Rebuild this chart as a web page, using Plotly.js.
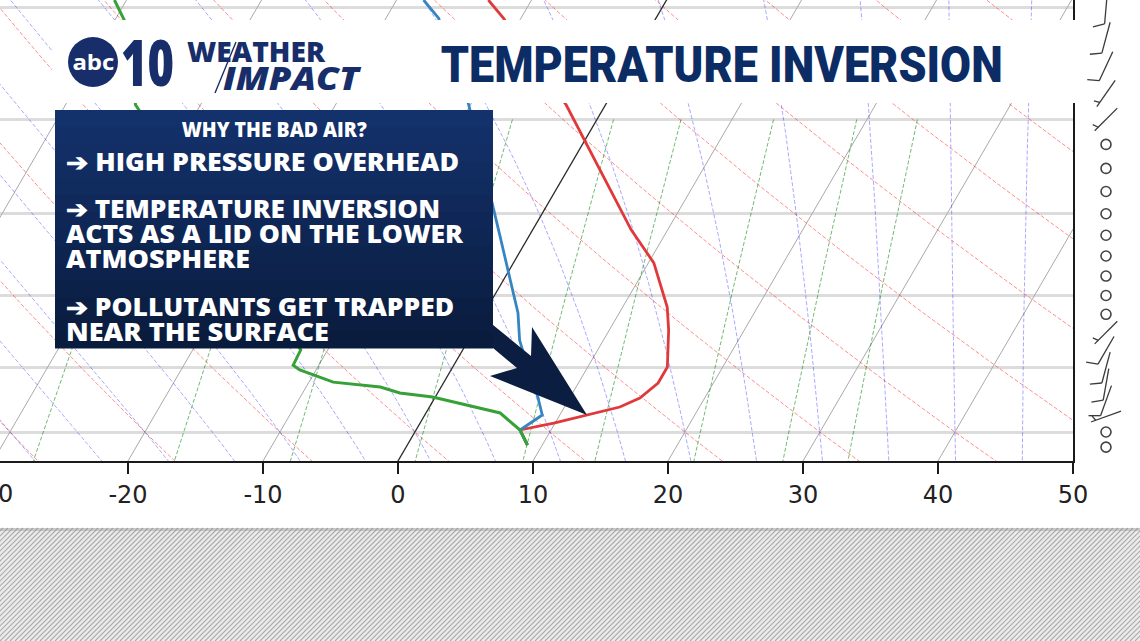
<!DOCTYPE html>
<html>
<head>
<meta charset="utf-8">
<script src="https://cdn.plot.ly/plotly-3.0.1.min.js"></script>
<style>
html,body{margin:0;padding:0;background:#ffffff;overflow:hidden;}
#chart{width:1140px;height:641px;}
</style>
</head>
<body>
<div id="chart"></div>
<script>
// ================= DATA =================
// bottom temperature axis
const xTickValues = [-20, -10, 0, 10, 20, 30, 40, 50];
const xTickText   = ['-20', '-10', '0', '10', '20', '30', '40', '50'];
// isobars drawn as horizontal grid lines (hPa)
const isobarLevels = [500, 600, 700, 800, 900, 1000];

// temperature profile (red)
const tempPressure = [1021.5, 996.7, 985.4, 972.6, 960.0, 946.0, 923.0, 899.3, 846.6, 815.3, 758.5, 718.7, 641.0, 586.0, 508.5, 493.6];
const tempC        = [8.9, 7.7, 9.9, 12.0, 14.1, 15.2, 15.9, 15.9, 14.4, 13.3, 10.4, 7.3, 1.6, -2.9, -11.3, -13.2];

// wet-bulb profile (blue)
const wetBulbPressure = [1021.5, 996.7, 972.6, 944.4, 893.6, 860.8, 823.2, 775.2, 727.0, 584.8, 508.5, 493.6];
const wetBulbC        = [8.9, 7.7, 8.7, 7.6, 5.3, 3.8, 2.5, 0.3, -2.1, -10.2, -16.1, -18.0];

// dewpoint profile (green)
const dewPressure = [1021.5, 996.7, 969.4, 944.4, 938.2, 929.1, 921.7, 903.6, 896.5, 874.4, 586.0, 510.1, 493.6];
const dewC        = [8.9, 7.7, 5.5, -0.2, -2.8, -4.5, -8.2, -11.2, -11.9, -12.0, -34.8, -39.3, -40.9];

// wind barbs column
const windPressure = [1025, 1000, 975, 950, 925, 900, 875, 850, 825, 800, 775, 750, 725, 700, 675, 650, 625, 600, 575, 550, 525, 500];
const windSpeedKt  = [0, 0, 5, 10, 10, 10, 10, 5, 0, 0, 0, 0, 0, 0, 0, 0, 0, 5, 5, 10, 10, 10];
const windDirDeg   = [0, 0, 250, 200, 190, 195, 210, 225, 0, 0, 0, 0, 0, 0, 0, 0, 0, 225, 215, 205, 195, 185];

// background line families of the skew-T
const isothermC        = [-60, -50, -40, -30, -20, -10, 10, 20, 30, 40, 50];
const zeroIsothermC    = [0];
const dryAdiabatThetaC = [-30, -20, -10, 0, 10, 20, 30, 40, 50, 60, 70, 80, 90, 100, 110, 120, 130, 140];
const moistAdiabatC    = [-50, -45, -40, -35, -30, -25, -20, -15, -10, -5, 0, 5, 10, 15, 20, 25, 30, 35, 40, 45];
const mixingRatioGkg   = [0.4, 1, 2, 4, 7, 10, 16, 24, 32];

// texts
const titleText = 'TEMPERATURE INVERSION';
const boxHeading = 'WHY THE BAD AIR?';
const boxLines = ['➔ HIGH PRESSURE OVERHEAD', '➔ TEMPERATURE INVERSION', 'ACTS AS A LID ON THE LOWER', 'ATMOSPHERE', '➔ POLLUTANTS GET TRAPPED', 'NEAR THE SURFACE'];

// ================= LAYOUT CONSTANTS =================
const W = 1140, H = 641;
const PLOT_RIGHT_PX = 1073, PLOT_BOTTOM_PX = 461, BAND_TOP_PX = 528;
const P_BOTTOM = 1048.5, P_TOP = 493.6;
const T_LEFT = -398 / 13.5, T_RIGHT = 50;
const SKEW = 60.8;

const px = x => x / W;
const py = y => 1 - y / H;
const skewX = (T, p) => T + SKEW * Math.log10(P_BOTTOM / p);

// pressure sampling for the background curves
const curveP = [];
for (let p = 1100; p >= 440; p -= 10) curveP.push(p);

function familyTrace(params, fn, pList, style) {
  const x = [], y = [];
  params.forEach(v => {
    pList.forEach(p => { x.push(skewX(fn(v, p), p)); y.push(p); });
    x.push(null); y.push(null);
  });
  return {type: 'scatter', mode: 'lines', x, y, hoverinfo: 'skip', line: style, connectgaps: false};
}

// thermodynamics
const Rd = 287.04749, Cp = 1004.6662, Lv = 2.50084e6, EPS = 0.62195;
const satVap = T => { const tc = T - 273.15; return 6.112 * Math.exp(17.67 * tc / (tc + 243.5)); };
const dTdp = (p, T) => { const e = satVap(T); const rs = EPS * e / (p - e); return (1 / p) * (Rd * T + Lv * rs) / (Cp + Lv * Lv * rs * EPS / (Rd * T * T)); };
function moistT(t0, pt) {
  let T = t0 + 273.15, p = 1000;
  const n = Math.max(1, Math.ceil(Math.abs(pt - p) / 4));
  const h = (pt - p) / n;
  for (let i = 0; i < n; i++) {
    const k1 = dTdp(p, T), k2 = dTdp(p + h / 2, T + h * k1 / 2), k3 = dTdp(p + h / 2, T + h * k2 / 2), k4 = dTdp(p + h, T + h * k3);
    T += h * (k1 + 2 * k2 + 2 * k3 + k4) / 6; p += h;
  }
  return T - 273.15;
}
const dryT = (th, p) => (th + 273.15) * Math.pow(p / 1000, 0.2857) - 273.15;
const mixT = (w, p) => { const wk = w / 1000; const e = p * wk / (EPS + wk); const l = Math.log(e / 6.112); return 243.5 * l / (17.67 - l); };

const mixP = [];
for (let p = 600; p <= 1050; p += 10) mixP.push(p);

const traces = [];
traces.push(familyTrace(isothermC, (t) => t, [1100, 440], {color: '#a9a9a9', width: 1}));
traces.push(familyTrace(dryAdiabatThetaC, dryT, curveP, {color: 'rgba(255,0,0,0.45)', width: 1, dash: '4px,2px'}));
traces.push(familyTrace(moistAdiabatC, moistT, curveP, {color: 'rgba(0,0,255,0.34)', width: 1, dash: '4px,2px'}));
traces.push(familyTrace(mixingRatioGkg, mixT, mixP, {color: 'rgba(0,128,0,0.55)', width: 1, dash: '4px,2px'}));
traces.push(familyTrace(zeroIsothermC, (t) => t, [1100, 440], {color: '#2a2a2a', width: 1.3}));

// sounding
traces.push({type: 'scatter', mode: 'lines', x: tempPressure.map((p, i) => skewX(tempC[i], p)), y: tempPressure, line: {color: '#e0393b', width: 2.8}, hoverinfo: 'skip'});
traces.push({type: 'scatter', mode: 'lines', x: wetBulbPressure.map((p, i) => skewX(wetBulbC[i], p)), y: wetBulbPressure, line: {color: '#3585c2', width: 2.8}, hoverinfo: 'skip'});
traces.push({type: 'scatter', mode: 'lines', x: dewPressure.map((p, i) => skewX(dewC[i], p)), y: dewPressure, line: {color: '#36a136', width: 3}, hoverinfo: 'skip'});

// wind barbs
const pxPerDecade = PLOT_BOTTOM_PX / Math.log10(P_BOTTOM / P_TOP);
const shiftP = (p, dyUpPx) => p * Math.pow(10, -dyUpPx / pxPerDecade);
const BARB_X = 1106, STAFF = 32, FULL = 12, HALF = 6, SPACING = 5;
const bx = [], by = [], cx = [], cy = [];
windPressure.forEach((p, i) => {
  const s = windSpeedKt[i];
  if (s < 2.5) { cx.push(BARB_X); cy.push(p); return; }
  const d = windDirDeg[i] * Math.PI / 180;
  const ux = Math.sin(d), uy = Math.cos(d);
  const perpx = uy, perpy = -ux;
  const a = 70 * Math.PI / 180;
  const bvx = Math.cos(a) * ux + Math.sin(a) * perpx, bvy = Math.cos(a) * uy + Math.sin(a) * perpy;
  const pt = (sx, sy) => { bx.push(BARB_X + sx); by.push(shiftP(p, sy)); };
  pt(-ux * STAFF / 2, -uy * STAFF / 2); pt(ux * STAFF / 2, uy * STAFF / 2); bx.push(null); by.push(null);
  let full = Math.floor(s / 10), half = (s % 10) >= 5 ? 1 : 0;
  let k = (full === 0) ? 1 : 0;
  for (let f = 0; f < full + half; f++, k++) {
    const len = f < full ? FULL : HALF;
    const ex = ux * (STAFF / 2 - k * SPACING), ey = uy * (STAFF / 2 - k * SPACING);
    pt(ex, ey); pt(ex + bvx * len, ey + bvy * len); bx.push(null); by.push(null);
  }
});
traces.push({type: 'scatter', mode: 'lines', x: bx, y: by, xaxis: 'x2', yaxis: 'y2', line: {color: '#3a3a3a', width: 1.3}, hoverinfo: 'skip'});
traces.push({type: 'scatter', mode: 'markers', x: cx, y: cy, xaxis: 'x2', yaxis: 'y2', cliponaxis: false, marker: {symbol: 'circle-open', size: 10, line: {width: 1.6, color: '#444'}, color: '#444'}, hoverinfo: 'skip'});

// ================= OVERLAYS =================
const shapes = [];
// hatched band at the bottom
shapes.push({type: 'rect', xref: 'paper', yref: 'paper', x0: 0, x1: 1, y0: 0, y1: py(BAND_TOP_PX), fillcolor: '#ebebeb', line: {width: 0}, layer: 'below'});
let hatch = '';
for (let x = -130; x < W + 5; x += 5) {
  hatch += 'M' + px(x).toFixed(5) + ',' + py(H).toFixed(5) + ' L' + px(x + (H - BAND_TOP_PX)).toFixed(5) + ',' + py(BAND_TOP_PX).toFixed(5) + ' ';
}
shapes.push({type: 'path', xref: 'paper', yref: 'paper', path: hatch, line: {color: '#acacac', width: 1.1}, layer: 'below'});
shapes.push({type: 'rect', xref: 'paper', yref: 'paper', x0: 0, x1: 1, y0: py(BAND_TOP_PX + 3), y1: py(BAND_TOP_PX), fillcolor: 'rgba(140,140,140,0.35)', line: {width: 0}, layer: 'below'});

// white title banner
shapes.push({type: 'rect', xref: 'paper', yref: 'paper', x0: px(52), x1: px(1075), y0: py(103), y1: py(20), fillcolor: '#ffffff', line: {width: 0}});
// dark text box (vertical gradient by strips)
const boxTop = 110, boxBot = 348, strips = 14;
const c0 = [19, 49, 107], c1 = [10, 28, 62];
for (let i = 0; i < strips; i++) {
  const f = i / (strips - 1);
  const c = c0.map((v, j) => Math.round(v + (c1[j] - v) * f));
  const y0 = boxTop + (boxBot - boxTop) * i / strips, y1 = boxTop + (boxBot - boxTop) * (i + 1) / strips;
  shapes.push({type: 'rect', xref: 'paper', yref: 'paper', x0: px(55), x1: px(493), y0: py(y1 + 0.5), y1: py(y0), fillcolor: 'rgb(' + c.join(',') + ')', line: {width: 0}});
}
// pointer arrow
const arrowPts = [[493, 325], [531, 356], [532, 327], [587, 415], [490, 376], [517, 368], [493, 348]];
shapes.push({type: 'path', xref: 'paper', yref: 'paper', path: 'M' + arrowPts.map(q => px(q[0]).toFixed(5) + ',' + py(q[1]).toFixed(5)).join(' L') + ' Z', fillcolor: '#0b1d40', line: {width: 0}});
// logo circle and slash
shapes.push({type: 'circle', xref: 'paper', yref: 'paper', x0: px(68), x1: px(118), y0: py(87), y1: py(37), fillcolor: '#172e6b', line: {width: 0}});
shapes.push({type: 'line', xref: 'paper', yref: 'paper', x0: px(215), y0: py(93), x1: px(236), y1: py(42), line: {color: '#172e6b', width: 1.4}});

const navy = '#172e6b';
const ann = [];
const A = (text, x, y, font, xanchor, align, extra) => ann.push(Object.assign({text, xref: 'paper', yref: 'paper', x: px(x), y: py(y), xanchor, yanchor: 'middle', align, showarrow: false, font}, extra || {}));
A('-30', -7, 494, {family: 'DejaVu Sans', size: 24, color: '#222'}, 'center', 'center');
A(titleText, 721, 65, {family: 'Roboto', size: 50, weight: 900, color: '#0c2c66'}, 'center', 'center');
A('abc', 93, 62, {family: 'Open Sans', size: 21, weight: 700, color: '#ffffff'}, 'center', 'center');
A('10', 147, 62, {family: 'Open Sans', size: 64, weight: 800, color: navy}, 'center', 'center');
A('WEATHER', 185, 50, {family: 'Open Sans', size: 29, weight: 800, color: navy}, 'left', 'left');
A('IMPACT', 221, 78, {family: 'Open Sans', size: 31, weight: 800, style: 'italic', color: navy}, 'left', 'left');
A(boxHeading, 274.5, 129.5, {family: 'Open Sans', size: 21, weight: 800, color: '#ffffff'}, 'center', 'center');
const lineY = [161.5, 208.5, 233.5, 258.5, 306.5, 331.5];
boxLines.forEach((t, i) => A(t, 64, lineY[i], {family: 'Open Sans', size: 24, weight: 800, color: '#ffffff'}, 'left', 'left'));

const textWidths = {};
textWidths[titleText] = 562;
textWidths['abc'] = 42;
textWidths['10'] = 53;
textWidths['WEATHER'] = 138;
textWidths['IMPACT'] = 136;
textWidths[boxHeading] = 185;
[393, 374, 397, 184, 388, 263].forEach((w, i) => { textWidths[boxLines[i]] = w; });

const layout = {
  width: W, height: H, margin: {l: 0, r: 0, t: 0, b: 0},
  paper_bgcolor: '#ffffff', plot_bgcolor: '#ffffff', showlegend: false, hovermode: false,
  xaxis: {domain: [0, PLOT_RIGHT_PX / W], range: [T_LEFT, T_RIGHT], tickvals: xTickValues, ticktext: xTickText,
    ticks: 'outside', ticklen: 11, tickwidth: 2, tickcolor: '#1a1a1a', showline: true, linewidth: 2, linecolor: '#1a1a1a',
    showgrid: false, zeroline: false, tickfont: {family: 'DejaVu Sans', size: 24, color: '#222'}, fixedrange: true},
  yaxis: {domain: [1 - PLOT_BOTTOM_PX / H, 1], type: 'log', range: [Math.log10(P_BOTTOM), Math.log10(P_TOP)],
    tickvals: isobarLevels, showticklabels: false, ticks: '', showgrid: true, gridcolor: '#dcdcdc', gridwidth: 3,
    showline: true, linecolor: '#1a1a1a', linewidth: 2, side: 'right', zeroline: false, fixedrange: true},
  xaxis2: {domain: [PLOT_RIGHT_PX / W, 1], range: [PLOT_RIGHT_PX, W], visible: false, anchor: 'y2', fixedrange: true},
  yaxis2: {domain: [1 - PLOT_BOTTOM_PX / H, 1], type: 'log', range: [Math.log10(P_BOTTOM), Math.log10(P_TOP)], visible: false, anchor: 'x2', fixedrange: true},
  shapes, annotations: ann
};

Plotly.newPlot('chart', traces, layout, {displayModeBar: false, staticPlot: true}).then(gd => {
  gd.querySelectorAll('text.annotation-text').forEach(t => {
    const w = textWidths[t.textContent];
    if (w) { t.setAttribute('textLength', w); t.setAttribute('lengthAdjust', 'spacingAndGlyphs'); }
  });
});
</script>
</body>
</html>
